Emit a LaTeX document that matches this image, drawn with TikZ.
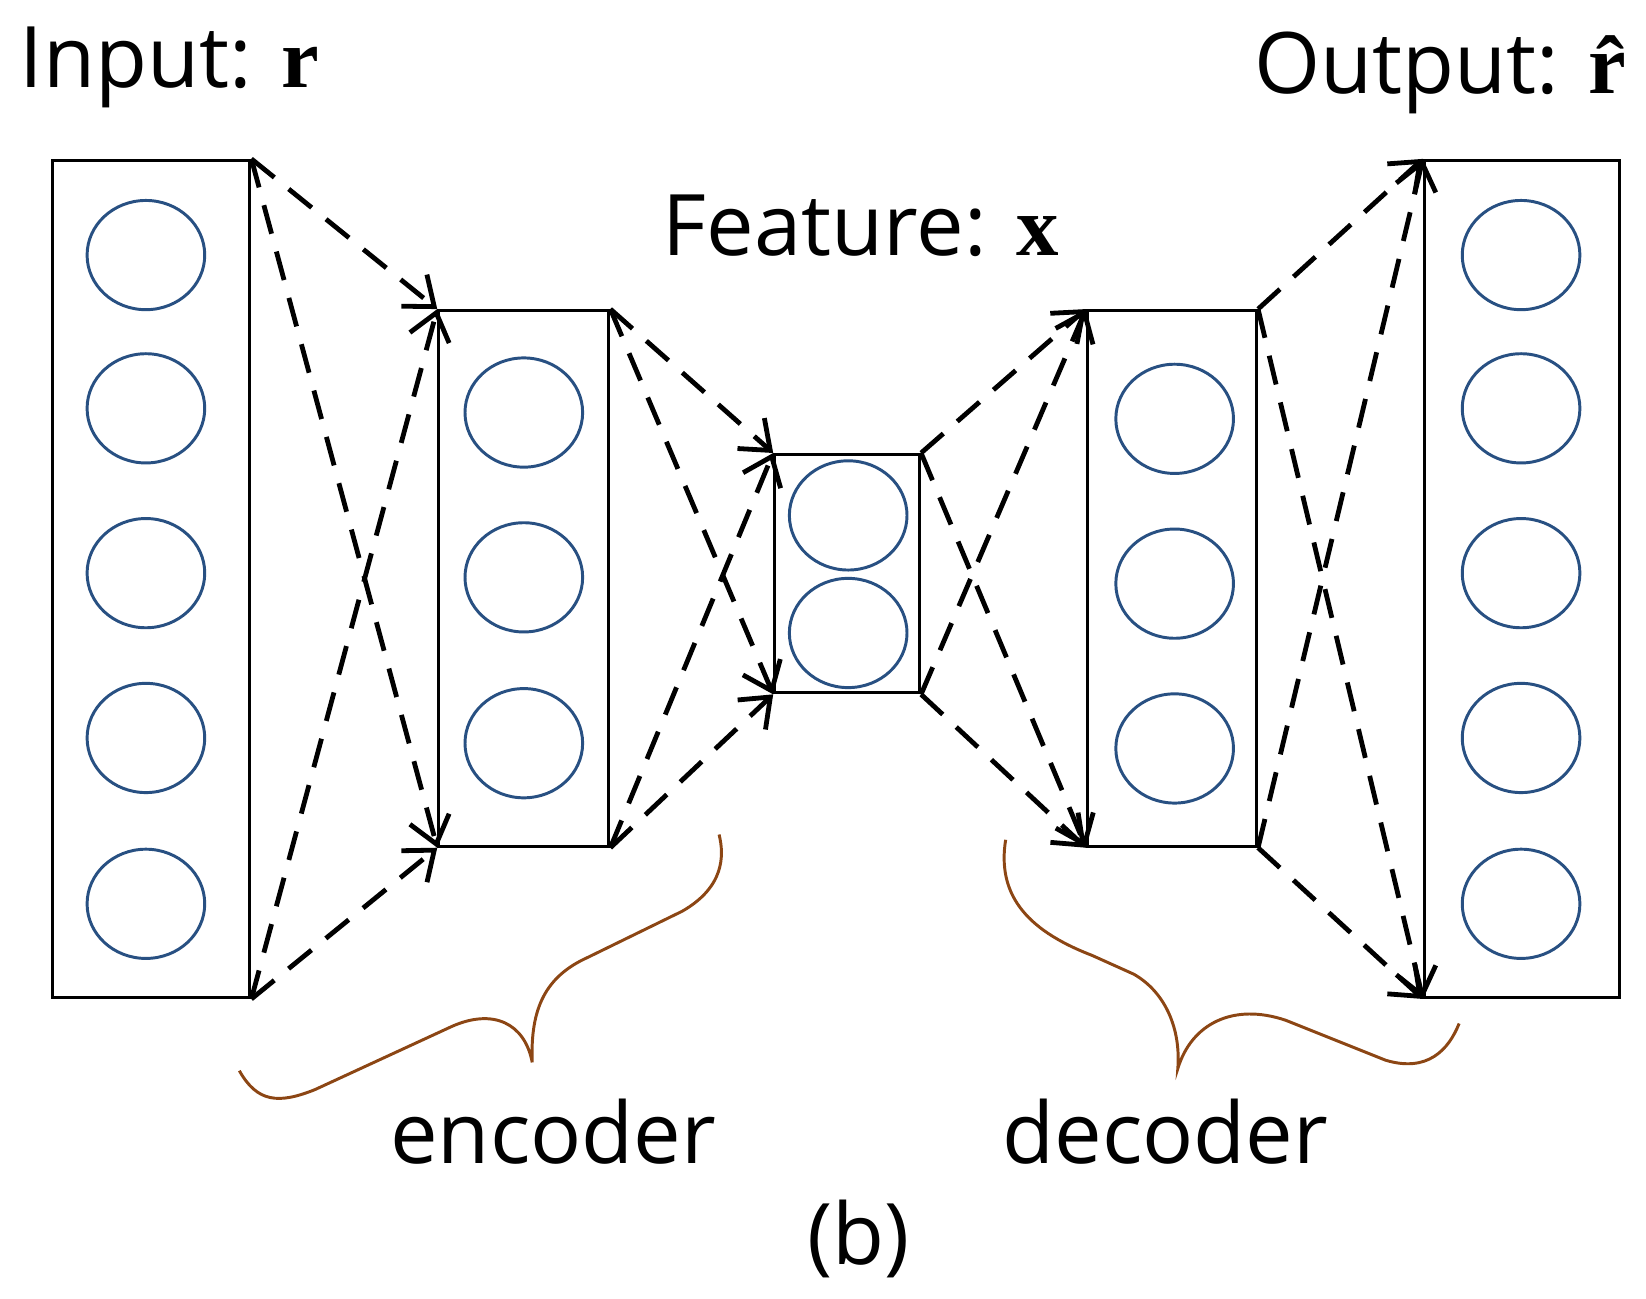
\documentclass[tikz,border=0pt]{standalone}
\usepackage{fontspec}
\setmainfont{Open Sans}
\newfontfamily\mathserif{Liberation Serif}
\usetikzlibrary{arrows.meta,shapes.geometric}
\newcommand{\bv}[1]{{\mathserif\bfseries #1}}
\begin{document}
\begin{tikzpicture}[x=0.01cm,y=-0.01cm,
  lay/.style={draw,thick,inner sep=0},
  neu/.style={draw={rgb,255:red,40;green,80;blue,130},thick,ellipse,minimum width=1.12cm,minimum height=1.04cm,inner sep=0},
  con/.style={line width=1.3pt,dash pattern=on 8pt off 5pt,-{Straight Barb[length=7pt,width=11pt,line width=1.3pt]}},
  br/.style={draw={rgb,255:red,140;green,70;blue,20},thick},
  lab/.style={font=\fontsize{23}{28}\selectfont,inner sep=0}]
\useasboundingbox (0,0) rectangle (1568,1237);
\node[lay] (L1) at (144,551.5) [minimum width=1.88cm,minimum height=7.97cm] {};
\node[lay] (L2) at (499,551) [minimum width=1.62cm,minimum height=5.10cm] {};
\node[lay] (L3) at (807,546.5) [minimum width=1.38cm,minimum height=2.27cm] {};
\node[lay] (L4) at (1116.5,551) [minimum width=1.61cm,minimum height=5.10cm] {};
\node[lay] (L5) at (1450,551.5) [minimum width=1.86cm,minimum height=7.97cm] {};
\foreach \y [count=\i] in {243,389,546,703,861}{
  \node[neu] (a\i) at (139,\y) {};
  \node[neu] (e\i) at (1449,\y) {};}
\foreach \y [count=\i] in {393,550,708}{\node[neu] (b\i) at (499,\y) {};}
\foreach \y [count=\i] in {399,556,713}{\node[neu] (d\i) at (1119,\y) {};}
\node[neu] (c1) at (808,491) {};
\node[neu] (c2) at (808,603) {};
\foreach \s/\t in {L1/L2,L2/L3,L3/L4,L4/L5}{
  \draw[con] (\s.north east) -- (\t.north west);
  \draw[con] (\s.north east) -- (\t.south west);
  \draw[con] (\s.south east) -- (\t.north west);
  \draw[con] (\s.south east) -- (\t.south west);}
\node[lab,anchor=west] (tin) at (18,64) {Input: \bv{r}};
\node[lab,anchor=east] (tout) at (1550,69) {Output: \bv{\^r}};
\node[lab] (tf) at (820,215) {Feature: \bv{x}};
\node[lab] (tenc) at (527,1078) {encoder};
\node[lab] (tdec) at (1110,1078) {decoder};
\node[lab] (tb) at (818,1180) {(b)};
\draw[br] (228,1020) .. controls (245,1050) and (265,1052) .. (300,1038) -- (430,978) .. controls (470,960) and (500,975) .. (507,1012)
  .. controls (505,960) and (520,930) .. (560,912) -- (650,868) .. controls (690,845) and (690,815) .. (685,795);
\draw[br] (958,800) .. controls (950,850) and (975,885) .. (1040,910) -- (1080,928) .. controls (1110,945) and (1125,980) .. (1122,1018)
  .. controls (1135,975) and (1175,955) .. (1225,972) -- (1320,1010) .. controls (1360,1022) and (1380,1000) .. (1390,975);
\end{tikzpicture}
\end{document}
